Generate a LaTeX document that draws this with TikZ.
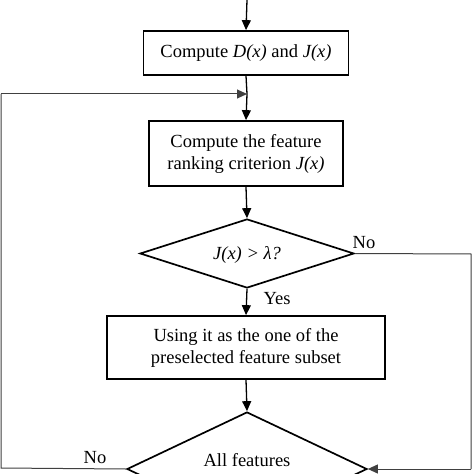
\documentclass[tikz,border=0pt]{standalone}
\usepackage{fontspec}
\setmainfont{Liberation Serif}
\usetikzlibrary{shapes.geometric,arrows.meta}
\begin{document}
\begin{tikzpicture}[x=1bp,y=-1bp,
  every node/.style={font=\fontsize{18.5bp}{22bp}\selectfont},
  procbox/.style={draw,line width=1.7bp,align=center,inner sep=0pt},
  decision/.style={draw,diamond,line width=1.7bp,inner sep=0pt},
  flow/.style={line width=1.3bp,-{Triangle[length=10bp,width=9bp]}},
  loopline/.style={line width=1bp,draw=black!75},
  lbl/.style={inner sep=0pt}]
\clip (0,0) rectangle (474,474);
\useasboundingbox (0,0) rectangle (474,474);
\fill[white] (0,0) rectangle (474,474);

\coordinate (start) at (247,0);
\node[procbox,minimum width=205bp,minimum height=44bp] (b1) at (246,53) {Compute \textit{D(x)} and \textit{J(x)}};
\node[procbox,minimum width=194bp,minimum height=65bp] (b2) at (246,153.5) {Compute the feature\\ranking criterion \textit{J(x)}};
\node[decision,minimum width=214bp,minimum height=69bp] (d1) at (247,253.5) {};
\node[lbl] (d1t) at (247,255) {\textit{J(x) > λ?}};
\node[procbox,minimum width=278bp,minimum height=63bp] (b3) at (246,347.5) {Using it as the one of the\\preselected feature subset};
\node[decision,minimum width=240bp,minimum height=114bp] (d2) at (247,469) {};
\node[lbl] (d2t) at (247,460) {All features};

\coordinate (merge) at (247,94);
\coordinate (lt) at (1,94);
\coordinate (lb) at (1,468);
\coordinate (rt) at (471,254);
\coordinate (rb) at (471,469);

\draw[flow] (start) -- (b1.north);
\draw[line width=1.3bp] (b1.south) -- (merge);
\draw[flow] (merge) -- (b2.north);
\draw[flow] (b2.south) -- (d1.north);
\draw[flow] (d1.south) -- (b3.north);
\draw[flow] (b3.south) -- (d2.north);

\draw[loopline] (d1.east) -- (rt) -- (rb);
\draw[loopline,-{Triangle[length=10bp,width=9bp]}] (rb) -- (d2.east);
\draw[loopline] (d2.west) -- (lb) -- (lt);
\draw[loopline,-{Triangle[length=10bp,width=9bp]}] (lt) -- (merge);

\node[lbl] (no1) at (364,243) {No};
\node[lbl] (yes) at (277,299) {Yes};
\node[lbl] (no2) at (95,458) {No};
\end{tikzpicture}
\end{document}
